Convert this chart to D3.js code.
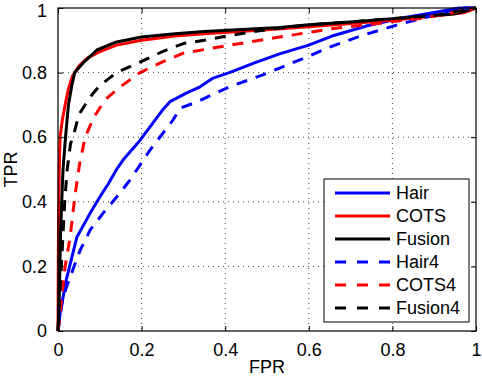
<!DOCTYPE html>
<html>
<head>
<meta charset="utf-8">
<script src="https://cdn.jsdelivr.net/npm/d3@7"></script>
<style>
  body { margin: 0; background: #fff; }
  svg text { font-family: "Liberation Sans", Helvetica, Arial, sans-serif; }
</style>
</head>
<body>
<div id="roc"></div>
<script>
// ROC points, [FPR, TPR]
var hair = [[0,0],[0.005,0.055],[0.02,0.16],[0.045,0.29],[0.077,0.365],[0.1,0.415],[0.12,0.455],
  [0.14,0.5],[0.156,0.53],[0.196,0.59],[0.25,0.684],[0.268,0.71],[0.308,0.737],[0.34,0.756],
  [0.371,0.783],[0.41,0.8],[0.47,0.83],[0.53,0.858],[0.6,0.885],[0.66,0.915],[0.74,0.945],
  [0.82,0.968],[0.9,0.986],[0.96,1],[1,1]];
var cots = [[0,0],[0.001,0.3],[0.003,0.5],[0.005,0.6],[0.01,0.65],[0.017,0.7],[0.025,0.75],
  [0.035,0.79],[0.05,0.82],[0.07,0.845],[0.1,0.865],[0.14,0.885],[0.2,0.9],[0.28,0.913],
  [0.35,0.92],[0.5,0.933],[0.6,0.942],[0.7,0.952],[0.8,0.962],[0.9,0.975],[0.97,0.985],[1,1]];
var fusion = [[0,0],[0.003,0.1],[0.006,0.3],[0.009,0.4],[0.012,0.5],[0.018,0.6],[0.025,0.7],
  [0.033,0.76],[0.04,0.8],[0.06,0.83],[0.093,0.87],[0.14,0.895],[0.2,0.91],[0.28,0.92],
  [0.35,0.927],[0.45,0.934],[0.53,0.94],[0.6,0.948],[0.7,0.957],[0.8,0.967],[0.9,0.977],
  [0.95,0.982],[1,1]];
var hair4 = [[0,0],[0.005,0.045],[0.012,0.105],[0.029,0.167],[0.053,0.25],[0.077,0.313],
  [0.108,0.365],[0.148,0.427],[0.172,0.467],[0.189,0.5],[0.22,0.56],[0.275,0.653],[0.292,0.69],
  [0.332,0.709],[0.41,0.756],[0.49,0.793],[0.53,0.814],[0.595,0.848],[0.65,0.879],[0.73,0.916],
  [0.81,0.947],[0.9,0.978],[0.96,1],[1,1]];
var cots4 = [[0,0],[0.005,0.05],[0.009,0.105],[0.017,0.2],[0.029,0.29],[0.037,0.38],[0.045,0.46],
  [0.052,0.52],[0.065,0.6],[0.085,0.66],[0.112,0.715],[0.148,0.755],[0.196,0.8],[0.25,0.833],
  [0.3,0.86],[0.41,0.885],[0.53,0.91],[0.65,0.935],[0.77,0.953],[0.88,0.97],[1,1]];
var fusion4 = [[0,0],[0.004,0.1],[0.008,0.2],[0.012,0.3],[0.016,0.4],[0.022,0.5],[0.03,0.58],
  [0.036,0.6],[0.05,0.67],[0.077,0.725],[0.1,0.76],[0.14,0.8],[0.2,0.835],[0.25,0.865],[0.3,0.89],
  [0.35,0.9],[0.41,0.915],[0.5,0.933],[0.6,0.948],[0.7,0.957],[0.8,0.967],[0.9,0.977],[1,1]];

var seriesNames = ["Hair", "COTS", "Fusion", "Hair4", "COTS4", "Fusion4"];
var seriesData = [hair, cots, fusion, hair4, cots4, fusion4];
var seriesColors = ["#0000ff", "#ff0000", "#000000", "#0000ff", "#ff0000", "#000000"];
var seriesDashed = [false, false, false, true, true, true];
var tickValues = [0, 0.2, 0.4, 0.6, 0.8, 1];

var W = 482, H = 378;
var margin = {top: 8, right: 6, bottom: 47, left: 58};
var width = W - margin.left - margin.right;
var height = H - margin.top - margin.bottom;

var svg = d3.select("#roc").append("svg")
    .attr("width", W)
    .attr("height", H)
  .append("g")
    .attr("transform", "translate(" + margin.left + "," + margin.top + ")");

var x = d3.scaleLinear().domain([0, 1]).range([0, width]);
var y = d3.scaleLinear().domain([0, 1]).range([height, 0]);

// dotted grid
var inner = tickValues.filter(t => t > 0 && t < 1);
svg.selectAll(".gx").data(inner).enter().append("line")
   .attr("x1", d => x(d)).attr("x2", d => x(d))
   .attr("y1", 0).attr("y2", height)
   .attr("stroke", "#444").attr("stroke-width", 1)
   .attr("stroke-dasharray", "1,4");
svg.selectAll(".gy").data(inner).enter().append("line")
   .attr("y1", d => y(d)).attr("y2", d => y(d))
   .attr("x1", 0).attr("x2", width)
   .attr("stroke", "#444").attr("stroke-width", 1)
   .attr("stroke-dasharray", "1,4");

// curves
var line = d3.line().x(d => x(d[0])).y(d => y(d[1]));
seriesData.forEach(function(s, i) {
    svg.append("path")
       .datum(s)
       .attr("d", line)
       .attr("fill", "none")
       .attr("stroke", seriesColors[i])
       .attr("stroke-width", 3)
       .attr("stroke-linejoin", "round")
       .attr("stroke-dasharray", seriesDashed[i] ? "11,9" : null);
});

// axes, ticks inward on all four sides
function styleAxis(g) {
    g.select(".domain").remove();
    g.selectAll("line").attr("stroke", "#000");
    g.selectAll("text").style("font-size", "18px").attr("fill", "#000");
}
svg.append("g")
   .attr("transform", "translate(0," + height + ")")
   .call(d3.axisBottom(x).tickValues(tickValues).tickFormat(d3.format("~g")).tickSizeInner(-5).tickPadding(12))
   .call(styleAxis);
var yAxis = svg.append("g")
   .call(d3.axisLeft(y).tickValues(tickValues).tickFormat(d3.format("~g")).tickSizeInner(-5).tickPadding(11))
   .call(styleAxis);
// top label sits a little lower so it is not cut at the page edge
yAxis.selectAll(".tick text").filter(d => d === 1).attr("y", 3);
svg.append("g")
   .call(d3.axisTop(x).tickValues(tickValues).tickFormat("").tickSizeInner(-5))
   .call(styleAxis);
svg.append("g")
   .attr("transform", "translate(" + width + ",0)")
   .call(d3.axisRight(y).tickValues(tickValues).tickFormat("").tickSizeInner(-5))
   .call(styleAxis);

svg.append("rect")
   .attr("width", width).attr("height", height)
   .attr("fill", "none").attr("stroke", "#000").attr("stroke-width", 1.2);

// axis labels
svg.append("text")
   .attr("x", width / 2).attr("y", height + 42)
   .attr("text-anchor", "middle")
   .style("font-size", "18px")
   .text("FPR");
svg.append("text")
   .attr("transform", "translate(" + (-41) + "," + (height / 2) + ") rotate(-90)")
   .attr("text-anchor", "middle")
   .style("font-size", "18px")
   .text("TPR");

// legend
var legend = svg.append("g").attr("transform", "translate(" + (x(0.6364)) + "," + (y(0.4706)) + ")");
legend.append("rect")
   .attr("width", 145).attr("height", 143)
   .attr("fill", "#fff").attr("stroke", "#000").attr("stroke-width", 1);
var item = legend.selectAll(".item").data(seriesNames).enter().append("g")
   .attr("transform", (d, i) => "translate(0," + (14 + i * 23) + ")");
item.append("line")
   .attr("x1", 11).attr("x2", 66)
   .attr("stroke", (d, i) => seriesColors[i])
   .attr("stroke-width", 3)
   .attr("stroke-dasharray", (d, i) => seriesDashed[i] ? "11,11" : null);
item.append("text")
   .attr("x", 72).attr("dy", "0.35em")
   .style("font-size", "18px")
   .text(d => d);
</script>
</body>
</html>
